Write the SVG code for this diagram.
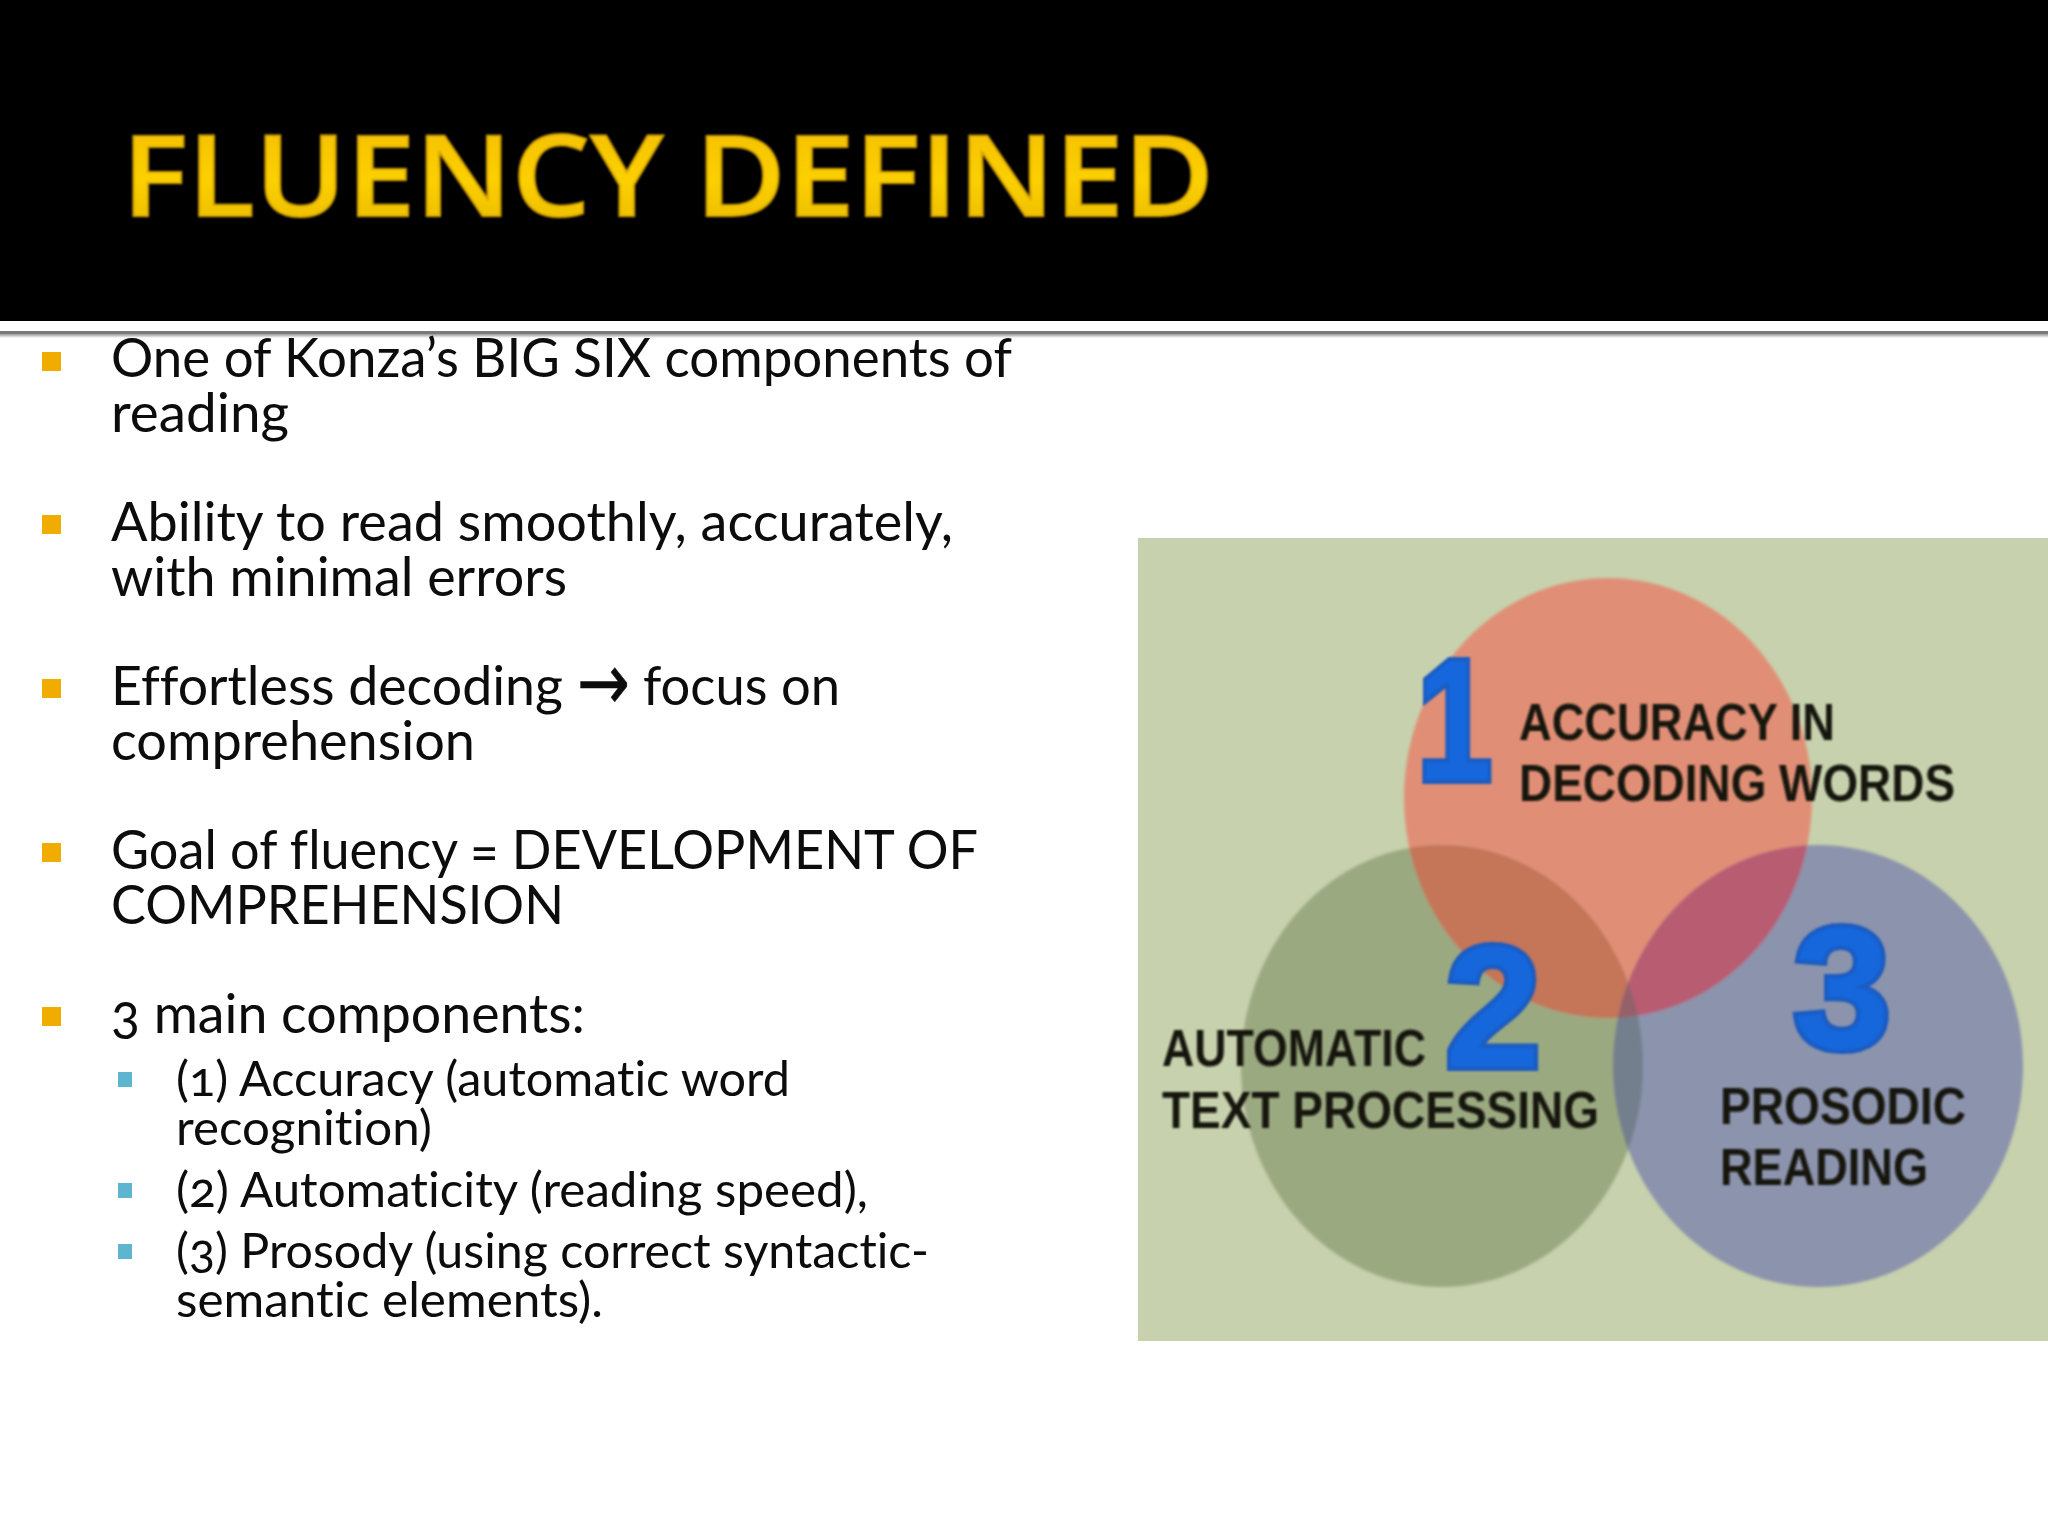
<svg xmlns="http://www.w3.org/2000/svg" width="2048" height="1536" viewBox="0 0 2048 1536">
<style>
.b{font-family:"Lato","Noto Sans",sans-serif;font-size:54px;fill:#0c0c0c;font-variant-numeric:oldstyle-nums;font-variant-ligatures:none;font-feature-settings:"onum" 1,"liga" 0}
.s{font-size:48px}
.bu{fill:#f0ad00}
.su{fill:#5db5cf}
.l{font-family:"Liberation Sans",Arial,sans-serif;font-weight:bold;font-size:52px;fill:#14140f}
.n{font-family:"Liberation Sans",Arial,sans-serif;font-weight:bold;font-size:172px;fill:#1266dc;stroke:#1a5cc0;stroke-width:8px;paint-order:stroke}
</style>
<defs>
<linearGradient id="tg" x1="0" y1="0" x2="0" y2="1"><stop offset="0" stop-color="#f3b90e"/><stop offset="0.55" stop-color="#fbd000"/><stop offset="1" stop-color="#e6b400"/></linearGradient>
<linearGradient id="sh" x1="0" y1="0" x2="0" y2="1"><stop offset="0" stop-color="#999"/><stop offset="1" stop-color="#fff"/></linearGradient>
<filter id="blur" x="-5%" y="-5%" width="110%" height="110%"><feGaussianBlur stdDeviation="1.4"/></filter>
<filter id="t" x="-5%" y="-10%" width="110%" height="120%"><feGaussianBlur stdDeviation="0.9"/></filter>
<clipPath id="cTop"><ellipse cx="1608" cy="798" rx="204" ry="220"/></clipPath>
<clipPath id="cLeft"><ellipse cx="1442" cy="1066" rx="201" ry="221"/></clipPath>
</defs>
<rect width="2048" height="1536" fill="#fff"/>
<g id="header">
<rect width="2048" height="321" fill="#000"/>
<rect y="331" width="2048" height="3" fill="#7a7a7a"/>
<rect y="334" width="2048" height="4" fill="url(#sh)"/>
<text x="122" y="216" font-family="Open Sans, Noto Sans, sans-serif" font-weight="600" font-size="112" fill="url(#tg)" stroke="#d9a800" stroke-width="2" textLength="1092" lengthAdjust="spacingAndGlyphs" filter="url(#t)">FLUENCY DEFINED</text>
</g>
<g id="bullets">
<rect class="bu" x="42" y="352" width="19" height="19"/>
<text class="b" x="111" y="377" textLength="901" lengthAdjust="spacingAndGlyphs">One of Konza’s BIG SIX components of</text>
<text class="b" x="111" y="432" textLength="178" lengthAdjust="spacingAndGlyphs">reading</text>
<rect class="bu" x="42" y="515" width="19" height="19"/>
<text class="b" x="111" y="541" textLength="842" lengthAdjust="spacingAndGlyphs">Ability to read smoothly, accurately,</text>
<text class="b" x="111" y="596" textLength="456" lengthAdjust="spacingAndGlyphs">with minimal errors</text>
<rect class="bu" x="42" y="679" width="19" height="19"/>
<text class="b" x="111" y="705" textLength="452" lengthAdjust="spacingAndGlyphs">Effortless decoding</text>
<text x="577" y="710" font-family="DejaVu Sans, sans-serif" font-size="80" fill="#0c0c0c" stroke="#0c0c0c" stroke-width="0.5" textLength="53" lengthAdjust="spacingAndGlyphs">→</text>
<text class="b" x="643" y="705" textLength="197" lengthAdjust="spacingAndGlyphs">focus on</text>
<text class="b" x="111" y="760" textLength="364" lengthAdjust="spacingAndGlyphs">comprehension</text>
<rect class="bu" x="42" y="843" width="19" height="19"/>
<text class="b" x="111" y="869" textLength="867" lengthAdjust="spacingAndGlyphs">Goal of fluency = DEVELOPMENT OF</text>
<text class="b" x="111" y="924" textLength="453" lengthAdjust="spacingAndGlyphs">COMPREHENSION</text>
<rect class="bu" x="42" y="1007" width="19" height="19"/>
<text class="b" x="111" y="1033" textLength="474" lengthAdjust="spacingAndGlyphs">3 main components:</text>
<rect class="su" x="118" y="1072" width="14" height="15"/>
<text class="b s" x="176" y="1096" textLength="614" lengthAdjust="spacingAndGlyphs">(1) Accuracy (automatic word</text>
<text class="b s" x="176" y="1145" textLength="256" lengthAdjust="spacingAndGlyphs">recognition)</text>
<rect class="su" x="118" y="1183" width="14" height="15"/>
<text class="b s" x="176" y="1207" textLength="692" lengthAdjust="spacingAndGlyphs">(2) Automaticity (reading speed),</text>
<rect class="su" x="118" y="1244" width="14" height="15"/>
<text class="b s" x="176" y="1268" textLength="753" lengthAdjust="spacingAndGlyphs">(3) Prosody (using correct syntactic-</text>
<text class="b s" x="176" y="1317" textLength="427" lengthAdjust="spacingAndGlyphs">semantic elements).</text>
</g>
<g id="venn">
<rect x="1138" y="538" width="910" height="803" fill="#c7d1ad"/>
<g filter="url(#blur)">
<g id="node-accuracy"><ellipse cx="1608" cy="798" rx="204" ry="220" fill="#e08f76"/></g>
<g id="node-automatic"><ellipse cx="1442" cy="1066" rx="201" ry="221" fill="#9ba981"/></g>
<g id="node-prosodic"><ellipse cx="1818" cy="1066" rx="205" ry="221" fill="#8c93ac"/></g>
<g clip-path="url(#cTop)"><ellipse cx="1442" cy="1066" rx="201" ry="221" fill="#c57558"/><ellipse cx="1818" cy="1066" rx="205" ry="221" fill="#b85c72"/></g>
<g clip-path="url(#cLeft)"><ellipse cx="1818" cy="1066" rx="205" ry="221" fill="#737f8d"/></g>
<g clip-path="url(#cTop)"><g clip-path="url(#cLeft)"><ellipse cx="1818" cy="1066" rx="205" ry="221" fill="#94606a"/></g></g>
</g>
<g filter="url(#t)">
<text class="n" x="1417" y="780" textLength="75" lengthAdjust="spacingAndGlyphs">1</text>
<text class="n" x="1445" y="1067" textLength="96" lengthAdjust="spacingAndGlyphs">2</text>
<text class="n" x="1793" y="1048" textLength="98" lengthAdjust="spacingAndGlyphs">3</text>
<text class="l" x="1519" y="740" textLength="316" lengthAdjust="spacingAndGlyphs">ACCURACY IN</text>
<text class="l" x="1519" y="801" textLength="436" lengthAdjust="spacingAndGlyphs">DECODING WORDS</text>
<text class="l" x="1162" y="1066" textLength="264" lengthAdjust="spacingAndGlyphs">AUTOMATIC</text>
<text class="l" x="1162" y="1128" textLength="437" lengthAdjust="spacingAndGlyphs">TEXT PROCESSING</text>
<text class="l" x="1720" y="1124" textLength="246" lengthAdjust="spacingAndGlyphs">PROSODIC</text>
<text class="l" x="1720" y="1185" textLength="208" lengthAdjust="spacingAndGlyphs">READING</text>
</g>
</g>
</svg>
